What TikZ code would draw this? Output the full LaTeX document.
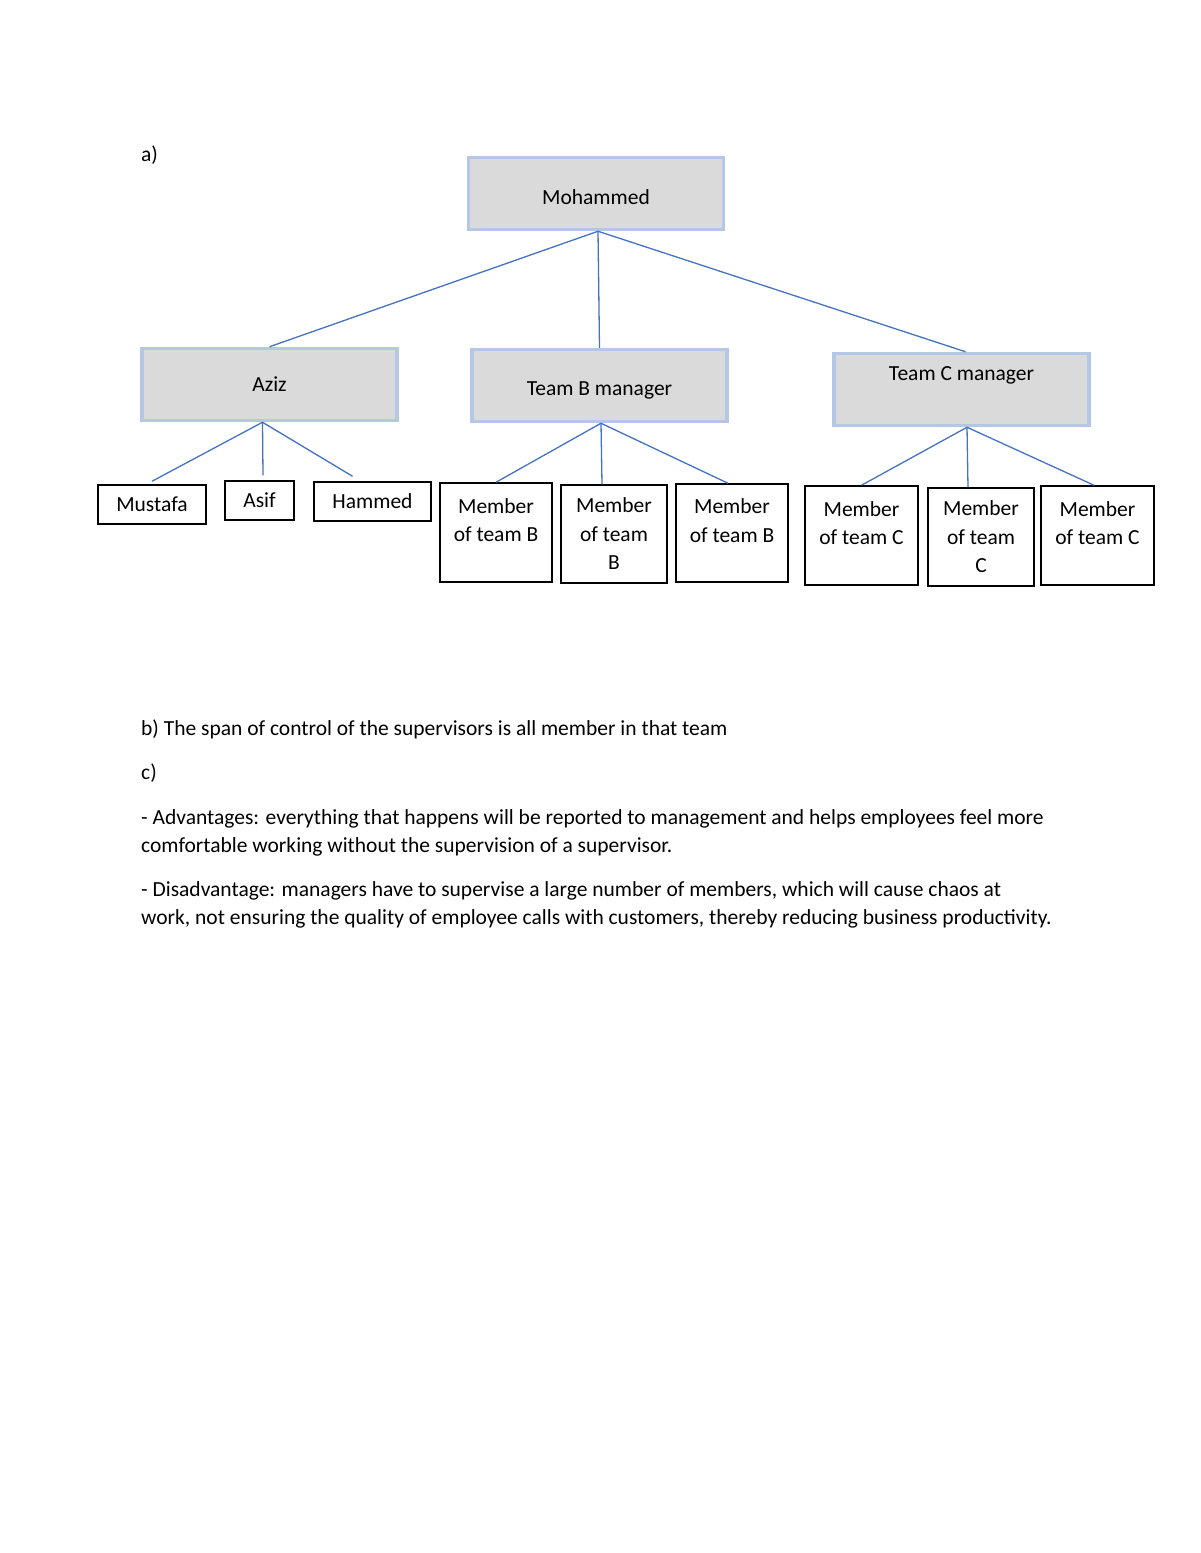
\documentclass[tikz,border=0pt]{standalone}
\usepackage{fontspec}
\setmainfont{Carlito}
\usetikzlibrary{positioning}
\definecolor{boxgray}{HTML}{DADADA}
\definecolor{boxblue}{HTML}{B4C7E7}
\definecolor{linkblue}{HTML}{4472C4}
\tikzset{
  chief/.style={draw=boxblue, fill=boxgray, line width=3.5pt,
    minimum width=255, minimum height=72, inner sep=0pt, align=center},
  staff/.style={draw=black, line width=1.5pt, inner sep=0pt, align=center},
  link/.style={draw=linkblue, line width=1.3pt},
  answer/.style={anchor=base west, inner sep=0pt},
}
\begin{document}
\begin{tikzpicture}[x=1pt,y=-1pt,
    every node/.style={font=\fontsize{21.5}{28.5}\selectfont}]
    \useasboundingbox (0,0) rectangle (1200,1553);

    \node[answer] (PartA) at (141,161) {a)};

    % managers
    \node[chief] (Mohammed) at (596,193.5) {\strut\\[-26pt]Mohammed};
    \node[chief] (Aziz) at (269.5,384.5) {Aziz};
    \node[chief] (TeamB) at (599.5,385.5) {\strut\\[-24pt]Team B manager};
    \node[chief] (TeamC) at (961.5,389.5) {Team C manager\\[-6pt]\strut};

    % team A
    \node[staff, minimum width=108, minimum height=39] (Mustafa) at (152,504.5) {Mustafa};
    \node[staff, minimum width=69, minimum height=39] (Asif) at (259.5,500.5) {Asif};
    \node[staff, minimum width=117, minimum height=39] (Hammed) at (372.5,501.5) {Hammed};

    % team B
    \node[staff, minimum width=112, minimum height=99] (MemberBa) at (496,532.5) {Member\\of team B\\[-12pt]\strut};
    \node[staff, minimum width=106, minimum height=98] (MemberBb) at (614,534) {Member\\of team\\B};
    \node[staff, minimum width=112, minimum height=98] (MemberBc) at (732,533) {Member\\of team B\\[-12pt]\strut};

    % team C
    \node[staff, minimum width=113, minimum height=99] (MemberCa) at (861.5,535.5) {Member\\of team C\\[-12pt]\strut};
    \node[staff, minimum width=106, minimum height=98] (MemberCb) at (981,537) {Member\\of team\\C};
    \node[staff, minimum width=113, minimum height=99] (MemberCc) at (1097.5,535.5) {Member\\of team C\\[-12pt]\strut};

    \draw[link] ([xshift=2]Mohammed.south) -- (Aziz.north);
    \draw[link] ([xshift=2]Mohammed.south) -- (TeamB.north);
    \draw[link] ([xshift=2]Mohammed.south) -- ([xshift=4]TeamC.north);

    \draw[link] ([xshift=-7]Aziz.south) -- ([yshift=3]Mustafa.north);
    \draw[link] ([xshift=-7]Aziz.south) -- ([xshift=3.5,yshift=5]Asif.north);
    \draw[link] ([xshift=-7]Aziz.south) -- ([xshift=-20,yshift=5]Hammed.north);

    \draw[link] ([xshift=1.5]TeamB.south) -- (MemberBa.north);
    \draw[link] ([xshift=1.5]TeamB.south) -- ([xshift=-12]MemberBb.north);
    \draw[link] ([xshift=1.5]TeamB.south) -- ([xshift=-4]MemberBc.north);

    \draw[link] ([xshift=5.5]TeamC.south) -- (MemberCa.north);
    \draw[link] ([xshift=5.5]TeamC.south) -- ([xshift=-13]MemberCb.north);
    \draw[link] ([xshift=5.5]TeamC.south) -- ([xshift=-3.5]MemberCc.north);

    % answers
    \node[answer] (PartB) at (141,735) {b) The span of control of the supervisors is all member in that team};
    \node[answer] (PartC) at (141,779) {c)};
    \node[answer] (AdvOne) at (141,824) {- Advantages: everything that happens will be reported to management and helps employees feel more};
    \node[answer] (AdvTwo) at (141,852) {comfortable working without the supervision of a supervisor.};
    \node[answer] (DisOne) at (141,896) {- Disadvantage: managers have to supervise a large number of members, which will cause chaos at};
    \node[answer] (DisTwo) at (141,924) {work, not ensuring the quality of employee calls with customers, thereby reducing business productivity.};
\end{tikzpicture}
\end{document}
